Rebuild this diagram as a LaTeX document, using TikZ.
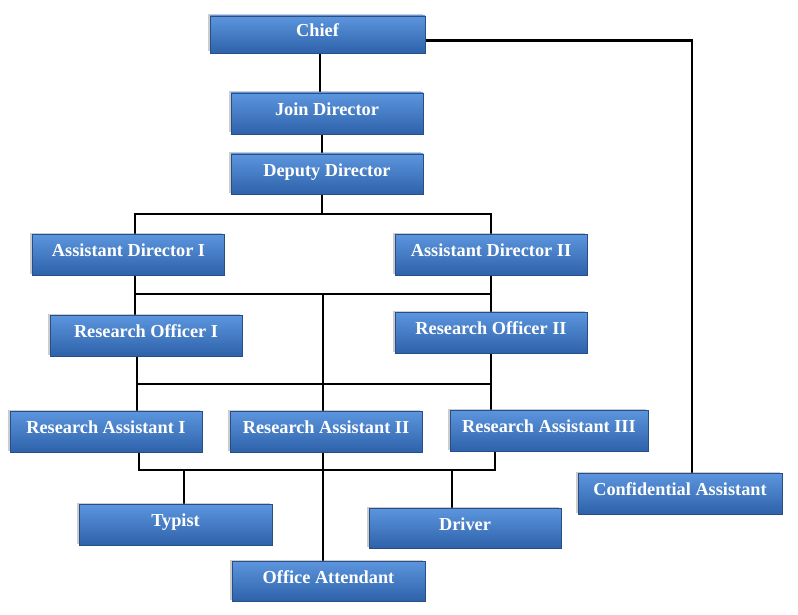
\documentclass[tikz,border=0pt]{standalone}
\usepackage{fontspec}
\setmainfont{Liberation Serif}
\usepackage{tikz}
\usetikzlibrary{shadows}
\definecolor{boxtop}{RGB}{92,150,222}
\definecolor{boxbot}{RGB}{46,98,170}
\definecolor{boxedge}{RGB}{40,78,136}
\pgfdeclarelayer{background}
\pgfsetlayers{background,main}

\begin{document}
\begin{tikzpicture}
[x=1pt, y=-1pt,
post/.style={draw=boxedge, line width=0.8pt, top color=boxtop, bottom color=boxbot,
  text=white, font=\bfseries\fontsize{18.3}{20}\selectfont,
  minimum width=192pt, minimum height=41pt, inner sep=0pt,
  text height=11.5pt, text depth=7.5pt,
  drop shadow={shadow xshift=-2.5pt, shadow yshift=1.5pt, opacity=0.4}},
link/.style={black, line width=2.6pt}]
\useasboundingbox (0,0) rectangle (798,615);
\node[post, minimum width=215pt, minimum height=37pt] (chief) at (317.5,34.5) {Chief};
\node[post] (join) at (327,113.5) {Join Director};
\node[post, minimum height=40pt] (deputy) at (327,174) {Deputy Director};
\node[post] (adI) at (128.5,254.5) {Assistant Director I};
\node[post] (adII) at (491,254.5) {Assistant Director II};
\node[post] (roI) at (146,335.5) {Research Officer I};
\node[post] (roII) at (491,332.5) {Research Officer II};
\node[post] (raI) at (106,431.5) {Research Assistant I};
\node[post] (raII) at (326,431.5) {Research Assistant II};
\node[post, minimum width=198pt] (raIII) at (549,430.5) {Research Assistant III};
\node[post, minimum width=204pt] (conf) at (680,493.5) {Confidential Assistant};
\node[post, minimum width=193pt] (typist) at (175.5,524.5) {Typist};
\node[post, minimum height=40pt] (driver) at (465,528) {Driver};
\node[post, minimum width=193pt, minimum height=40pt] (office) at (328.5,581) {Office Attendant};
\coordinate (bus1) at (322,214);
\coordinate (bus2) at (323,294);
\coordinate (bus3) at (320,384);
\coordinate (bus4) at (323,470);
\begin{pgfonlayer}{background}
\draw[link] ([xshift=2.5pt]chief.south) -- ([xshift=2.5pt]chief.south |- join.north);
\draw[link] ([yshift=-6pt]chief.east) -| ([xshift=12pt]conf.north);
\draw[link] ([xshift=-5pt]join.south) -- ([xshift=-5pt]deputy.north);
\draw[link] ([xshift=-5pt]deputy.south) -- (bus1);
\draw[link] ([xshift=6.5pt]adI.north) |- (bus1) -| (adII.north);
\draw[link] ([xshift=6.5pt]adI.south) -- ([xshift=-11pt]roI.north);
\draw[link] (adII.south) -- (roII.north);
\draw[link] ([xshift=6.5pt]adI.south |- bus2) -- (adII.south |- bus2);
\draw[link] (bus2) -- (bus2 |- raII.north);
\draw[link] ([xshift=-9pt]roI.south) -- ([xshift=31pt]raI.north);
\draw[link] ([xshift=-9pt]roI.south |- bus3) -- (roII.south |- bus3);
\draw[link] (roII.south) -- (roII.south |- raIII.north);
\draw[link] ([xshift=33pt]raI.south) |- ([xshift=-54pt]raIII.south |- bus4) -- ([xshift=-54pt]raIII.south);
\draw[link] ([xshift=-3pt]raII.south) -- ([xshift=-3pt]raII.south |- office.north);
\draw[link] ([xshift=8.5pt]typist.north) -- ([xshift=8.5pt]typist.north |- bus4);
\draw[link] ([xshift=-13pt]driver.north) -- ([xshift=-13pt]driver.north |- bus4);
\end{pgfonlayer}
\end{tikzpicture}
\end{document}
